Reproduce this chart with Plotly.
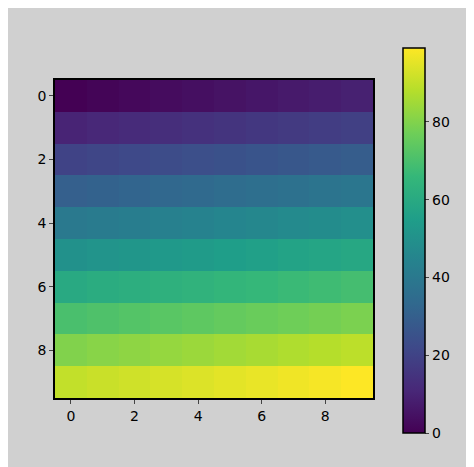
import plotly.graph_objects as go

x_labels = [0,1,2,3,4,5,6,7,8,9]
y_labels = [0,1,2,3,4,5,6,7,8,9]
z = [
 [0,1,2,3,4,5,6,7,8,9],
 [10,11,12,13,14,15,16,17,18,19],
 [20,21,22,23,24,25,26,27,28,29],
 [30,31,32,33,34,35,36,37,38,39],
 [40,41,42,43,44,45,46,47,48,49],
 [50,51,52,53,54,55,56,57,58,59],
 [60,61,62,63,64,65,66,67,68,69],
 [70,71,72,73,74,75,76,77,78,79],
 [80,81,82,83,84,85,86,87,88,89],
 [90,91,92,93,94,95,96,97,98,99],
]
cb_ticks = [0,20,40,60,80]

W, H = 474, 467
fig = go.Figure(go.Heatmap(
    z=z, x=x_labels, y=y_labels, colorscale="Viridis", zmin=0, zmax=99,
    colorbar=dict(x=385/W, xanchor="left", y=1-435/H, yanchor="bottom",
                  len=405/H, lenmode="fraction", thickness=22, thicknessmode="pixels",
                  outlinecolor="black", outlinewidth=1.5, tickvals=cb_ticks,
                  ticks="outside", ticklen=4, tickfont=dict(size=14, color="black"))))
fig.update_layout(
    width=W, height=H, margin=dict(l=0, r=0, t=0, b=0),
    paper_bgcolor="#d0d0d0", plot_bgcolor="#d0d0d0",
    font=dict(family="DejaVu Sans", size=14, color="black"),
    xaxis=dict(domain=[47/W, 365/W], range=[-0.5, 9.5], tickvals=[0,2,4,6,8],
               ticks="outside", ticklen=4, showgrid=False, zeroline=False,
               showline=True, linecolor="black", linewidth=1.5, mirror=True),
    yaxis=dict(domain=[1-390/H, 1-72/H], range=[9.5, -0.5], tickvals=[0,2,4,6,8],
               ticks="outside", ticklen=4, showgrid=False, zeroline=False,
               showline=True, linecolor="black", linewidth=1.5, mirror=True),
)
fig.write_html("out.html")
